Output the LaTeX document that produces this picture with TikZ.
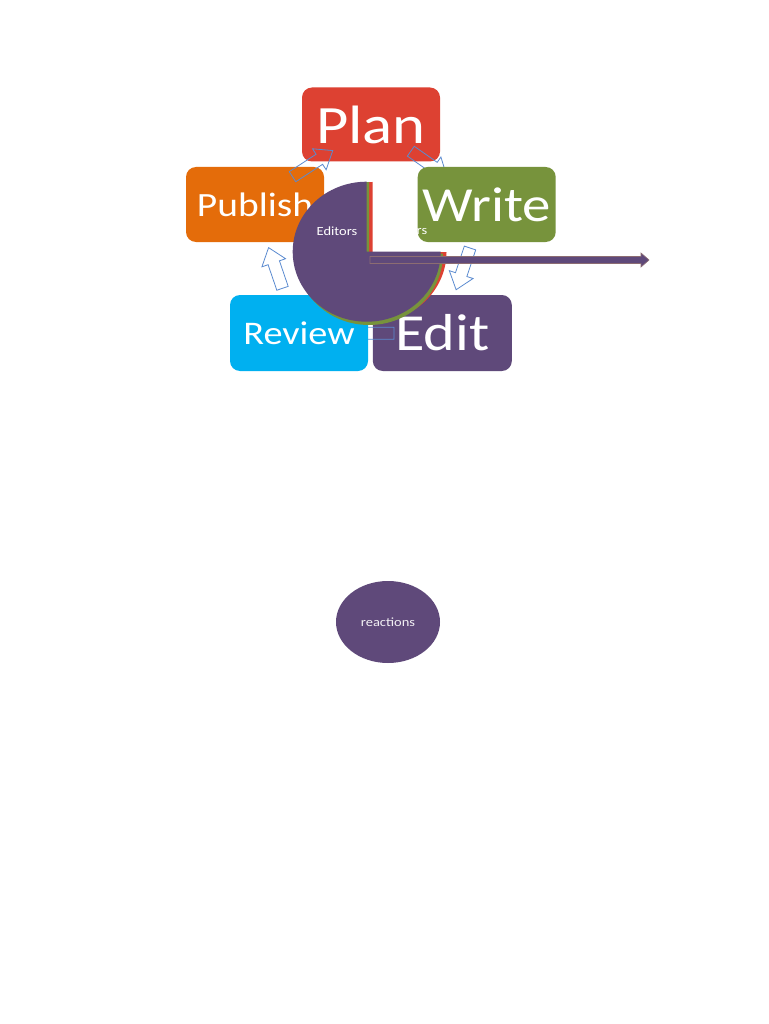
\documentclass[tikz,border=0pt]{standalone}
\usepackage{fontspec}
\setmainfont{Carlito}[FakeStretch=1.16]
\usetikzlibrary{shapes.geometric}

\definecolor{planred}{HTML}{DD4132}
\definecolor{pubornage}{HTML}{E46C0A}
\definecolor{writegreen}{HTML}{77933C}
\definecolor{reviewcyan}{HTML}{00B0F0}
\definecolor{editpurple}{HTML}{5F497A}
\definecolor{arrowblue}{HTML}{5B8BD0}
\definecolor{baredge}{HTML}{8C6C72}

% hollow block arrow: tail point, angle, length
\newcommand{\blockarrow}[3]{%
\draw[arrowline, shift={(#1)}, rotate=#2] (0,-6) -- (#3-16,-6) -- (#3-16,-12.5) -- (#3,0) -- (#3-16,12.5) -- (#3-16,6) -- (0,6) -- cycle;}

\begin{document}
\begin{tikzpicture}[x=1pt, y=-1pt,
  box/.style={rounded corners=10pt, text=white, inner sep=0pt, minimum width=138pt, minimum height=75pt},
  arrowline/.style={draw=arrowblue, line width=0.8pt, line join=miter},
  smalltext/.style={text=white, inner sep=0pt, font=\fontsize{12.5}{14}\selectfont}]

\useasboundingbox (0,0) rectangle (768,1024);
\fill[white] (0,0) rectangle (768,1024);


\coordinate (a1) at (292.5,176.7);
\coordinate (a2) at (410.8,151.2);
\coordinate (a3) at (470,248);
\coordinate (a4) at (282.5,288.3);
\coordinate (a5) at (394,333.3);


\node[box, fill=planred, minimum height=74pt, font=\fontsize{54}{54}\selectfont] (plan) at (371,124.5) {Plan};
\blockarrow{a2}{-35}{44}

\node[box, fill=writegreen, font=\fontsize{49}{49}\selectfont] (write) at (486.7,204.5) {Write};
\blockarrow{a3}{-108.4}{44}

\node[box, fill=editpurple, minimum width=139pt, minimum height=76pt, font=\fontsize{52}{52}\selectfont] (edit) at (442.3,333) {Edit};
\blockarrow{a5}{180}{44}

\node[box, fill=reviewcyan, minimum height=76pt, font=\fontsize{33}{33}\selectfont] (review) at (299,333) {Review};
\blockarrow{a4}{108.9}{43}

\node[box, fill=pubornage, font=\fontsize{34}{34}\selectfont] (publish) at (255,204.5) {Publish};
\blockarrow{a1}{33}{48}



% pie
\coordinate (pie) at (366.7,251.7);
\fill[planred] (372.5,252) -- ++(0,-70) arc[start angle=90, end angle=360, x radius=74pt, y radius=70pt] -- cycle;
\fill[writegreen] (369,254.5) -- ++(0,-72.5) arc[start angle=90, end angle=360, x radius=74pt, y radius=71.5pt] -- cycle;
\fill[editpurple] (pie) -- ++(0,-70) arc[start angle=90, end angle=360, x radius=74pt, y radius=70pt] -- cycle;

\node[smalltext] (editors) at (337,231) {Editors};
\node[smalltext, anchor=west] (rslabel) at (416.5,231.5) {rs};


% long arrow
\coordinate (barstart) at (370,260);
\coordinate (bartip) at (649,260);
\filldraw[fill=editpurple, draw=baredge, line width=0.6pt] ([yshift=3.5pt]barstart) -- ++(271,0) -- ++(0,-3.5) -- (bartip) -- ++(-8,7) -- ++(0,-3.5) -- ++(-271,0) -- cycle;


\node[ellipse, fill=editpurple, inner sep=0pt, minimum width=104pt, minimum height=82pt, text=white!92!editpurple, font=\fontsize{12.5}{14}\selectfont] (reactions) at (388,622) {reactions};

\end{tikzpicture}
\end{document}
